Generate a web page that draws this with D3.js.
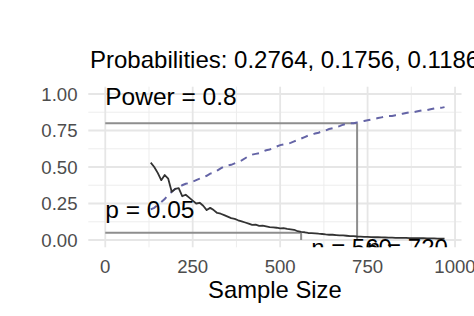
<!DOCTYPE html>
<html>
<head>
<meta charset="utf-8">
<script src="https://cdn.jsdelivr.net/npm/d3@7"></script>
<style>
  html, body { margin: 0; padding: 0; background: #fff; overflow: hidden; }
  svg { display: block; font-family: "Liberation Sans", Arial, Helvetica, sans-serif; }
</style>
</head>
<body>
<div id="chart"></div>
<script>
// --- Data ---
const titleText = "Probabilities: 0.2764, 0.1756, 0.1186";
const sampleSizes = d3.range(130, 971, 10); // n = 130, 140, ..., 970
const pValues = [
  0.53, 0.50, 0.46, 0.41, 0.445, 0.42, 0.33, 0.35, 0.355, 0.30,
  0.31, 0.29, 0.27, 0.25, 0.255, 0.235, 0.205, 0.22, 0.205, 0.185,
  0.18, 0.17, 0.16, 0.15, 0.145, 0.135, 0.128, 0.12, 0.112, 0.103,
  0.105, 0.097, 0.099, 0.094, 0.088, 0.086, 0.084, 0.08, 0.081, 0.076,
  0.073, 0.07, 0.06, 0.055, 0.053, 0.048, 0.047, 0.046, 0.043, 0.041,
  0.038, 0.036, 0.036, 0.034, 0.032, 0.031, 0.029, 0.027, 0.026, 0.024,
  0.023, 0.022, 0.021, 0.02, 0.019, 0.019, 0.018, 0.017, 0.016, 0.016,
  0.015, 0.015, 0.014, 0.014, 0.013, 0.013, 0.012, 0.012, 0.012, 0.011,
  0.011, 0.011, 0.01, 0.01, 0.01];
const powerValues = [
  0.21, 0.22, 0.24, 0.26, 0.28, 0.31, 0.33, 0.35, 0.36, 0.375,
  0.385, 0.39, 0.40, 0.41, 0.42, 0.43, 0.44, 0.455, 0.46, 0.475,
  0.49, 0.505, 0.51, 0.515, 0.525, 0.535, 0.545, 0.56, 0.575, 0.585,
  0.59, 0.595, 0.605, 0.615, 0.62, 0.63, 0.64, 0.65, 0.655, 0.66,
  0.665, 0.675, 0.685, 0.695, 0.705, 0.715, 0.72, 0.73, 0.735, 0.745,
  0.75, 0.76, 0.765, 0.775, 0.78, 0.79, 0.795, 0.80, 0.80, 0.805,
  0.81, 0.815, 0.82, 0.825, 0.83, 0.835, 0.84, 0.845, 0.85, 0.85,
  0.855, 0.86, 0.865, 0.87, 0.875, 0.875, 0.88, 0.885, 0.89, 0.89,
  0.895, 0.90, 0.905, 0.905, 0.91];
const powerTarget = 0.8, powerN = 720;
const alphaTarget = 0.05, alphaN = 560;
const xTicks = [0, 250, 500, 750, 1000];
const yTicks = [0, 0.25, 0.5, 0.75, 1];

// --- Layout ---
const W = 474, H = 316;
const panel = { left: 88.3, right: 461.5, top: 86.7, bottom: 247.3 };

// ggplot-style 5% expansion
function expand(lo, hi) { const d = (hi - lo) * 0.05; return [lo - d, hi + d]; }

const x = d3.scaleLinear().domain(expand(0, 970)).range([panel.left, panel.right]);
const y = d3.scaleLinear().domain(expand(0, 1)).range([panel.bottom, panel.top]);

const svg = d3.select("#chart").append("svg").attr("width", W).attr("height", H);

svg.append("defs").append("clipPath").attr("id", "clip")
  .append("rect")
  .attr("x", panel.left).attr("y", panel.top)
  .attr("width", panel.right - panel.left).attr("height", panel.bottom - panel.top);

// Grid (minor then major)
const grid = svg.append("g");
const minorX = xTicks.slice(0, -1).map(d => d + 125);
const minorY = yTicks.slice(0, -1).map(d => d + 0.125);
grid.selectAll("line.minx").data(minorX).enter().append("line")
  .attr("x1", d => x(d)).attr("x2", d => x(d)).attr("y1", panel.top).attr("y2", panel.bottom)
  .attr("stroke", "#ebebeb").attr("stroke-width", 0.9);
grid.selectAll("line.miny").data(minorY).enter().append("line")
  .attr("y1", d => y(d)).attr("y2", d => y(d)).attr("x1", panel.left).attr("x2", panel.right)
  .attr("stroke", "#ebebeb").attr("stroke-width", 0.9);
grid.selectAll("line.majx").data(xTicks).enter().append("line")
  .attr("x1", d => x(d)).attr("x2", d => x(d)).attr("y1", panel.top).attr("y2", panel.bottom)
  .attr("stroke", "#e6e6e6").attr("stroke-width", 1.8);
grid.selectAll("line.majy").data(yTicks).enter().append("line")
  .attr("y1", d => y(d)).attr("y2", d => y(d)).attr("x1", panel.left).attr("x2", panel.right)
  .attr("stroke", "#e6e6e6").attr("stroke-width", 1.8);

const plot = svg.append("g").attr("clip-path", "url(#clip)");

// Reference segments
const refColor = "#8e8e8e";
plot.append("line")
  .attr("x1", x(0)).attr("x2", x(powerN)).attr("y1", y(powerTarget)).attr("y2", y(powerTarget))
  .attr("stroke", refColor).attr("stroke-width", 2);
plot.append("line")
  .attr("x1", x(powerN)).attr("x2", x(powerN)).attr("y1", y(powerTarget)).attr("y2", y(0))
  .attr("stroke", refColor).attr("stroke-width", 2);
plot.append("line")
  .attr("x1", x(0)).attr("x2", x(alphaN)).attr("y1", y(alphaTarget)).attr("y2", y(alphaTarget))
  .attr("stroke", refColor).attr("stroke-width", 2);
plot.append("line")
  .attr("x1", x(alphaN)).attr("x2", x(alphaN)).attr("y1", y(alphaTarget)).attr("y2", y(0))
  .attr("stroke", refColor).attr("stroke-width", 2);

// Series lines
const line = d3.line().x(d => x(d[0])).y(d => y(d[1]));
plot.append("path")
  .datum(d3.zip(sampleSizes, powerValues))
  .attr("d", line).attr("fill", "none")
  .attr("stroke", "#6464a6").attr("stroke-width", 2)
  .attr("stroke-dasharray", "7,6");
plot.append("path")
  .datum(d3.zip(sampleSizes, pValues))
  .attr("d", line).attr("fill", "none")
  .attr("stroke", "#333333").attr("stroke-width", 1.8)
  .attr("stroke-linejoin", "round");

// Annotations
plot.append("text").attr("x", x(0)).attr("y", y(0.98)).attr("dy", "0.35em")
  .attr("font-size", 24.5).attr("fill", "#000").text("Power = 0.8");
plot.append("text").attr("x", x(0)).attr("y", y(0.21)).attr("dy", "0.35em")
  .attr("font-size", 24.5).attr("fill", "#000").text("p = 0.05");
[alphaN, powerN].forEach(n => {
  plot.append("text").attr("x", x(n) + 10).attr("y", y(0) + 16)
    .attr("font-size", 24).attr("fill", "#000").text("n = " + n);
});

// Axes labels
svg.append("g").selectAll("text").data(xTicks).enter().append("text")
  .attr("x", d => x(d)).attr("y", 272.5).attr("text-anchor", "middle")
  .attr("font-size", 18.6).attr("fill", "#4d4d4d").text(d => d);
svg.append("g").selectAll("text").data(yTicks).enter().append("text")
  .attr("x", 77.5).attr("y", d => y(d)).attr("dy", "0.35em").attr("text-anchor", "end")
  .attr("font-size", 18.6).attr("fill", "#4d4d4d").text(d => d3.format(".2f")(d));

svg.append("text").attr("x", (panel.left + panel.right) / 2).attr("y", 298)
  .attr("text-anchor", "middle").attr("font-size", 23.8).attr("fill", "#000").text("Sample Size");

svg.append("text").attr("x", 90).attr("y", 67.7)
  .attr("font-size", 24).attr("fill", "#000").text(titleText);
</script>
</body>
</html>
